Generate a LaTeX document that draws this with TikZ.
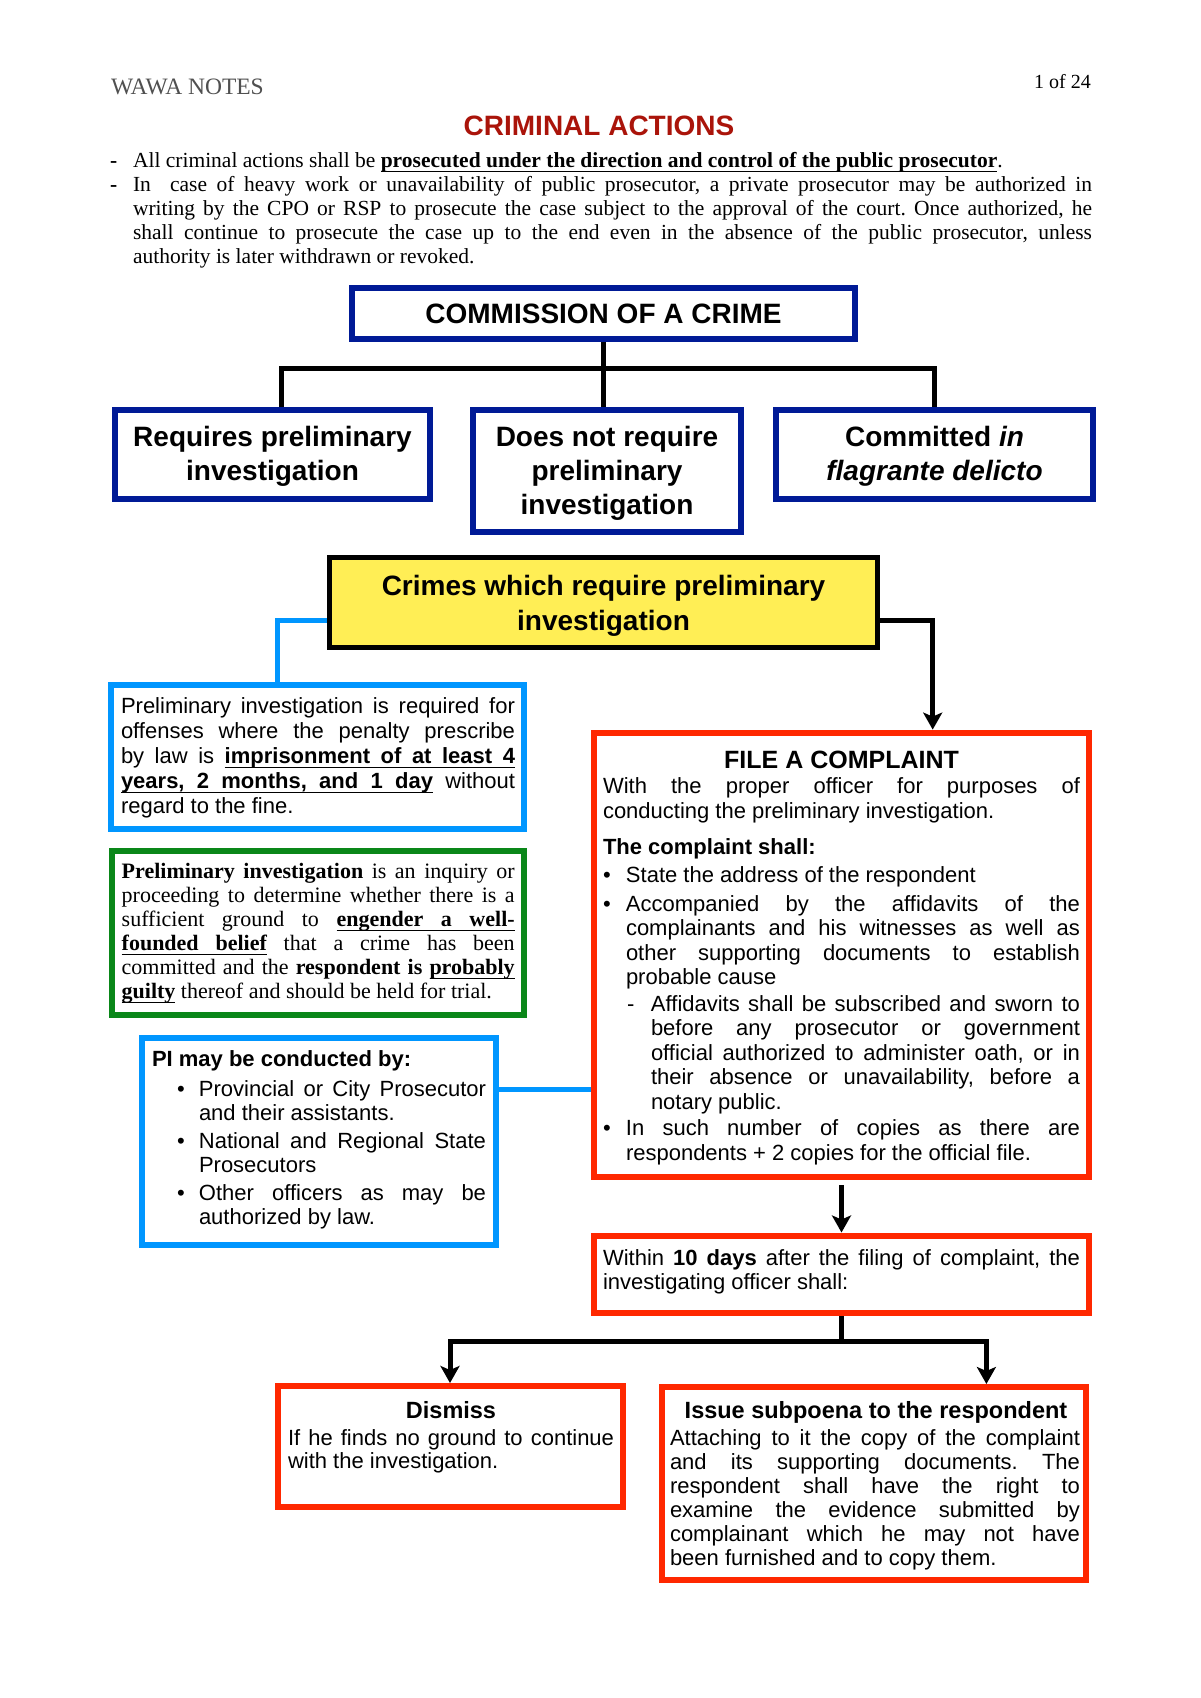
\documentclass[tikz,border=0pt]{standalone}
\usepackage{fontspec}
\setmainfont{Liberation Serif}
\setsansfont{Liberation Sans}
\usetikzlibrary{arrows.meta,backgrounds}
\definecolor{dblue}{RGB}{0,26,150}
\definecolor{lblue}{RGB}{0,150,255}
\definecolor{pgreen}{RGB}{10,135,25}
\definecolor{pred}{RGB}{255,40,0}
\definecolor{pyellow}{RGB}{255,238,85}
\definecolor{tred}{RGB}{170,20,10}
\definecolor{hgray}{RGB}{80,80,80}
\frenchspacing
\newcommand\wjL[1]{\hbox to\hsize{\strut#1}}
\newcommand\wlL[1]{\hbox to\hsize{\strut#1\hfil}}
\newcommand\wcL[1]{\hbox to\hsize{\strut\hfil#1\hfil}}
\newcommand\wiJ[3]{\hbox to\hsize{\strut\hbox to #1{#2\hfil}#3}}
\newcommand\wiL[3]{\hbox to\hsize{\strut\hbox to #1{#2\hfil}#3\hfil}}
\newcommand\wTB[2]{\vtop{\hsize=#1\relax #2}}
\newcommand\whdr[1]{\sffamily\bfseries\fontsize{28}{#1}\selectfont}
\newcommand\wsf[1]{\sffamily\fontsize{22}{#1}\selectfont}
\newcommand\wrm[1]{\rmfamily\fontsize{22}{#1}\selectfont}
% underline with stretchable underlined spaces
\newdimen\wuld \wuld=4pt
\newdimen\wult \wult=1.3pt
\def\wULword#1{\setbox0\hbox{#1}\rlap{\vrule height -\wuld depth \dimexpr\wuld+\wult\relax width \wd0}\box0}
\def\wULsp{\leaders\vrule height -\wuld depth \dimexpr\wuld+\wult\relax\hskip\fontdimen2\font plus\fontdimen3\font minus\fontdimen4\font}
\def\wUL#1{\wULloop#1 \wULstop}
\def\wULloop#1 #2\wULstop{\wULword{#1}\ifx\relax#2\relax\else\wULsp\wULloop#2\wULstop\fi}
\tikzset{
  bx/.style={draw=#1, line width=6pt, inner sep=0pt, outer sep=0pt, anchor=north west, fill=white},
  tx/.style={inner sep=0pt, outer sep=0pt, anchor=base west},
  tc/.style={inner sep=0pt, outer sep=0pt, anchor=base},
  conn/.style={line width=5pt, line join=miter},
  arr/.style={conn, -{Stealth[length=17pt,width=19pt,inset=4pt]}, shorten >=3pt},
  bconn/.style={conn, draw=lblue},
}
\begin{document}
\begin{tikzpicture}[x=1pt,y=-1pt]
\useasboundingbox (0,0) rectangle (1200,1698);

% ---------- header ----------
\node[tx, text=hgray] (wawa) at (111,94) {\rmfamily\fontsize{23.5}{24}\selectfont WAWA NOTES};
\node[inner sep=0pt, anchor=base east] (page) at (1091,88.5) {\rmfamily\fontsize{20}{24}\selectfont 1 of 24};
\node[tc, text=tred] (title) at (599,135) {\sffamily\bfseries\fontsize{28}{32}\selectfont CRIMINAL ACTIONS};
\node[tx] (intro) at (110,167) {\wTB{982pt}{\rmfamily\fontsize{21.5}{24}\selectfont
  \wiL{23pt}{\textbf{-}}{All criminal actions shall be {\bfseries\wUL{prosecuted under the direction and control of the public prosecutor}}.}
  \wiJ{23pt}{\textbf{-}}{In\ \ case of heavy work or unavailability of public prosecutor, a private prosecutor may be authorized in}
  \wiJ{23pt}{}{writing by the CPO or RSP to prosecute the case subject to the approval of the court. Once authorized, he}
  \wiJ{23pt}{}{shall continue to prosecute the case up to the end even in the absence of the public prosecutor, unless}
  \wiL{23pt}{}{authority is later withdrawn or revoked.}}};

% ---------- top tree ----------
\node[bx=dblue, minimum width=503pt, minimum height=51pt] (comm) at (352,288) {};
\node[tc] (commt) at (603.5,323) {\whdr{34}COMMISSION OF A CRIME};
\node[bx=dblue, minimum width=315pt, minimum height=89pt] (req) at (115,410) {};
\node[tc] (reqt) at (272.5,446.7) {\wTB{300pt}{\whdr{33.5}\wcL{Requires preliminary}\wcL{investigation}}};
\node[bx=dblue, minimum width=268pt, minimum height=122pt] (notreq) at (473,410) {};
\node[tc] (notreqt) at (607,446.7) {\wTB{260pt}{\whdr{34}\wcL{Does not require}\wcL{preliminary}\wcL{investigation}}};
\node[bx=dblue, minimum width=317pt, minimum height=89pt] (flag) at (776,410) {};
\node[tc] (flagt) at (934.5,446.7) {\wTB{300pt}{\whdr{33.5}\wcL{Committed \textit{in}}\wcL{\textit{flagrante delicto}}}};

% ---------- yellow ----------
\node[bx=black, line width=5pt, fill=pyellow, minimum width=548pt, minimum height=90pt] (yel) at (329.5,557.5) {};
\node[tc] (yelt) at (603.5,595) {\wTB{530pt}{\whdr{35}\wcL{Crimes which require preliminary}\wcL{investigation}}};

% ---------- left column ----------
\node[bx=lblue, minimum width=413pt, minimum height=144pt] (pireq) at (111,685) {};
\node[tx] (pireqt) at (121,713) {\wTB{394pt}{\wsf{25}
  \wjL{Preliminary investigation is required for}
  \wjL{offenses where the penalty prescribe}
  \wjL{by law is {\bfseries\wUL{imprisonment of at least 4}}}
  \wjL{{\bfseries\wUL{years, 2 months, and 1 day}} without}
  \wlL{regard to the fine.}}};

\node[bx=pgreen, minimum width=412pt, minimum height=164pt] (pidef) at (112,851) {};
\node[tx] (pideft) at (121.7,878) {\wTB{393pt}{\wrm{24}
  \wjL{\textbf{Preliminary investigation} is an inquiry or}
  \wjL{proceeding to determine whether there is a}
  \wjL{sufficient ground to {\bfseries\wUL{engender a well-}}}
  \wjL{{\bfseries\wUL{founded belief}} that a crime has been}
  \wjL{committed and the \textbf{respondent is} {\bfseries\wUL{probably}}}
  \wlL{{\bfseries\wUL{guilty}} thereof and should be held for trial.}}};

\node[bx=lblue, minimum width=354.4pt, minimum height=206.5pt] (piby) at (141.6,1038) {};
\node[tx] (pibyt) at (152,1066) {\wTB{334pt}{\wsf{23.5}
  \wlL{\textbf{PI may be conducted by:}}
  \vskip7.3pt
  \wiJ{47pt}{\hskip25pt\textbullet}{Provincial or City Prosecutor}
  \wiL{47pt}{}{and their assistants.}
  \vskip5pt
  \wiJ{47pt}{\hskip25pt\textbullet}{National and Regional State}
  \wiL{47pt}{}{Prosecutors}
  \vskip5pt
  \wiJ{47pt}{\hskip25pt\textbullet}{Other officers as may be}
  \wiL{47pt}{}{authorized by law.}}};

% ---------- complaint ----------
\node[bx=pred, minimum width=495pt, minimum height=444.4pt] (compl) at (594,732.6) {};
\node[tc] (complh) at (841.5,768) {\sffamily\bfseries\fontsize{25}{30}\selectfont FILE A COMPLAINT};
\node[tx] (complt) at (603,793.6) {\wTB{477pt}{\wsf{24.5}
  \wjL{With the proper officer for purposes of}
  \wlL{conducting the preliminary investigation.}
  \vskip12pt
  \wlL{\textbf{The complaint shall:}}
  \vskip3.5pt
  \wiL{23pt}{\textbullet}{State the address of the respondent}
  \vskip4pt
  \wiJ{23pt}{\textbullet}{Accompanied by the affidavits of the}
  \wiJ{23pt}{}{complainants and his witnesses as well as}
  \wiJ{23pt}{}{other supporting documents to establish}
  \wiL{23pt}{}{probable cause}
  \vskip2pt
  \wiJ{48pt}{\hskip24pt-}{Affidavits shall be subscribed and sworn to}
  \wiJ{48pt}{}{before any prosecutor or government}
  \wiJ{48pt}{}{official authorized to administer oath, or in}
  \wiJ{48pt}{}{their absence or unavailability, before a}
  \wiL{48pt}{}{notary public.}
  \vskip2pt
  \wiJ{23pt}{\textbullet}{In such number of copies as there are}
  \wiL{23pt}{}{respondents + 2 copies for the official file.}}};

\node[bx=pred, minimum width=495pt, minimum height=77.2pt] (within) at (594,1235.5) {};
\node[tx] (withint) at (603,1265.7) {\wTB{477pt}{\wsf{23.3}
  \wjL{Within \textbf{10 days} after the filing of complaint, the}
  \wlL{investigating officer shall:}}};

\node[bx=pred, minimum width=344.7pt, minimum height=121pt] (dismiss) at (278,1386) {};
\node[tc] (dismissh) at (451,1418) {\sffamily\bfseries\fontsize{23.5}{28}\selectfont Dismiss};
\node[tx] (dismisst) at (288,1445) {\wTB{326pt}{\wsf{23}
  \wjL{If he finds no ground to continue}
  \wlL{with the investigation.}}};

\node[bx=pred, minimum width=424.4pt, minimum height=193pt] (issue) at (661.6,1387) {};
\node[tc] (issueh) at (876,1418) {\sffamily\bfseries\fontsize{23.5}{28}\selectfont Issue subpoena to the respondent};
\node[tx] (issuet) at (670,1445) {\wTB{410pt}{\wsf{24.1}
  \wjL{Attaching to it the copy of the complaint}
  \wjL{and its supporting documents. The}
  \wjL{respondent shall have the right to}
  \wjL{examine the evidence submitted by}
  \wjL{complainant which he may not have}
  \wlL{been furnished and to copy them.}}};

% ---------- connectors ----------
\coordinate (j1) at (281.7,368.5);
\coordinate (j2) at (934.5,368.5);
\coordinate (c1) at (277.7,620);
\coordinate (c2) at (932.7,620);
\coordinate (c3) at (540,1089.5);
\coordinate (j3) at (450,1341.5);
\coordinate (j4) at (986.4,1341.5);
\begin{scope}[on background layer]
  \fill[white] (0,0) rectangle (1200,1698);
  \draw[conn] (j1 |- req.north) -- (j1) -- (j2) -- (flag.north);
  \draw[conn] (comm.south) -- (comm.south |- notreq.north);
  \draw[bconn] (yel.west |- c1) -| (pireq.north -| c1);
  \draw[arr] (yel.east |- c2) -| (compl.north -| c2);
  \draw[bconn] (piby.east |- c3) -- (compl.west |- c3);
  \draw[arr, shorten <=8pt] (compl.south) -- (within.north);
  \draw[arr] (within.south) |- (j3) -- (j3 |- dismiss.north);
  \draw[arr] (within.south) |- (j4) -- (j4 |- issue.north);
\end{scope}
\end{tikzpicture}
\end{document}
